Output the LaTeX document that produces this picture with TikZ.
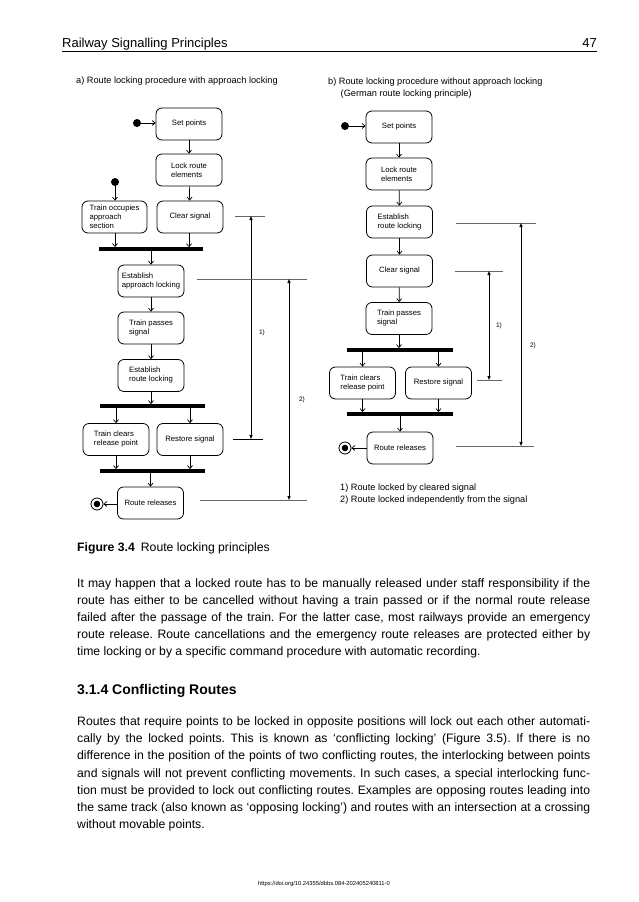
\documentclass[tikz,border=0pt]{standalone}
\usepackage{fontspec}
\setmainfont{Liberation Sans}
\usetikzlibrary{arrows.meta}
\frenchspacing
\begin{document}
\begin{tikzpicture}[x=1pt,y=-1pt,
  box/.style={draw, rounded corners=6pt, line width=0.8pt, minimum width=66pt, minimum height=32pt, align=left, font=\fontsize{7.7}{9}\selectfont, inner sep=2pt},
  flow/.style={-{Straight Barb[length=3pt,width=5pt]}, line width=0.7pt},
  barnode/.style={fill, inner sep=0, minimum height=3.5pt},
  dim/.style={{Triangle[length=4pt,width=3pt]}-{Triangle[length=4pt,width=3pt]}, line width=0.8pt},
  ext/.style={line width=0.5pt, black!60},
  extb/.style={line width=0.9pt},
  startdot/.style={circle, fill, inner sep=0, minimum size=8pt},
  enddot/.style={circle, draw, line width=0.8pt, inner sep=0, minimum size=12pt, path picture={\fill (path picture bounding box.center) circle (3.3pt);}},
  body/.style={anchor=base west, inner sep=0, font=\fontsize{12.2}{18}\selectfont},
  title/.style={anchor=base west, inner sep=0, font=\fontsize{9.2}{11}\selectfont},
  dimlabel/.style={inner sep=0, font=\fontsize{6.5}{7}\selectfont}
]
\fill[white] (0,0) rectangle (638,902);
\useasboundingbox (0,0) rectangle (638,902);

% header
\node[anchor=base west, inner sep=0, font=\fontsize{13}{15}\selectfont] (hdl) at (62,47.5) {Railway Signalling Principles};
\node[anchor=base east, inner sep=0, font=\fontsize{13}{15}\selectfont] (hdr) at (597,47.5) {47};
\coordinate (rl) at (62,51.5);
\coordinate (rr) at (597,51.5);
\draw[line width=1pt] (rl) -- (rr);

% ===== diagram a =====
\node[title] (ta) at (76,83.5) {a) Route locking procedure with approach locking};
\node[box] (a1) at (189,124) {Set points};
\node[box] (a2) at (189,170) {Lock route\\elements};
\node[box] (a3) at (190,217) {Clear signal};
\node[box, minimum width=65pt] (a4) at (114.5,217) {Train occupies\\approach\\section};
\node[startdot] (as1) at (137,123) {};
\node[startdot] (as2) at (115,182) {};
\node[barnode, minimum width=104pt] (ab1) at (151,249) {};
\node[box] (a5) at (151,281) {Establish\\approach locking};
\node[box] (a6) at (151,328) {Train passes\\signal};
\node[box] (a7) at (151,375.5) {Establish\\route locking};
\node[barnode, minimum width=105pt] (ab2) at (152.5,406) {};
\node[box] (a8) at (116,439.5) {Train clears\\release point};
\node[box] (a9) at (190,439.5) {Restore signal};
\node[barnode, minimum width=105pt] (ab3) at (152.5,471) {};
\node[box] (a10) at (150.5,503) {Route releases};
\node[enddot] (ae) at (97,504) {};

\draw[flow] (as1) -- (a1.west |- as1);
\draw[flow] (a1) -- (a2);
\draw[flow] (a2) -- (a3);
\draw[flow] (as2) -- (as2 |- a4.north);
\draw[flow] (as2 |- a4.south) -- (as2 |- ab1.north);
\draw[flow] (189,233) -- (189,247.25);
\draw[flow] (a5.north |- ab1.south) -- (a5.north);
\draw[flow] (a5) -- (a6);
\draw[flow] (a6) -- (a7);
\draw[flow] (a7.south) -- (a7.south |- ab2.north);
\draw[flow] (a8.north |- ab2.south) -- (a8.north);
\draw[flow] (a9.north |- ab2.south) -- (a9.north);
\draw[flow] (a8.south) -- (a8.south |- ab3.north);
\draw[flow] (a9.south) -- (a9.south |- ab3.north);
\draw[flow] (a10.north |- ab3.south) -- (a10.north);
\draw[flow] (a10.west |- ae) -- (ae);

% dimensions a
\coordinate (da1t) at (251,216);
\coordinate (da1b) at (251,439);
\draw[ext] (235,216) -- (265,216);
\draw[extb] (233,439) -- (263,439);
\draw[dim] (da1t) -- (da1b);
\node[dimlabel] (la1) at (262,333) {1)};
\coordinate (da2t) at (289,279);
\coordinate (da2b) at (289,500);
\draw[ext] (197,279) -- (307,279);
\draw[ext] (200,500) -- (307,500);
\draw[dim] (da2t) -- (da2b);
\node[dimlabel] (la2) at (302,400) {2)};

% ===== diagram b =====
\node[title] (tb1) at (328,84) {b) Route locking procedure without approach locking};
\node[title] (tb2) at (340.5,96) {(German route locking principle)};
\node[box] (b1) at (399,127) {Set points};
\node[box] (b2) at (399,174) {Lock route\\elements};
\node[box] (b3) at (399.5,222) {Establish\\route locking};
\node[box] (b4) at (399.5,271) {Clear signal};
\node[box] (b5) at (399,318.5) {Train passes\\signal};
\node[barnode, minimum width=106pt] (bb1) at (400,350) {};
\node[box] (b6) at (362.5,383) {Train clears\\release point};
\node[box] (b7) at (438.5,383) {Restore signal};
\node[barnode, minimum width=106pt] (bb2) at (400,414) {};
\node[box] (b8) at (400,448) {Route releases};
\node[startdot] (bs) at (345,126) {};
\node[enddot] (be) at (345,448) {};

\draw[flow] (bs) -- (b1.west |- bs);
\draw[flow] (b1) -- (b2);
\draw[flow] (b2) -- (b3);
\draw[flow] (b3) -- (b4);
\draw[flow] (b4) -- (b5);
\draw[flow] (b5.south) -- (b5.south |- bb1.north);
\draw[flow] (b6.north |- bb1.south) -- (b6.north);
\draw[flow] (b7.north |- bb1.south) -- (b7.north);
\draw[flow] (b6.south) -- (b6.south |- bb2.north);
\draw[flow] (b7.south) -- (b7.south |- bb2.north);
\draw[flow] (b8.north |- bb2.south) -- (b8.north);
\draw[flow] (b8.west) -- (be);

% dimensions b
\coordinate (db1t) at (489,271);
\coordinate (db1b) at (489,380);
\draw[ext] (455,271) -- (503,271);
\draw[ext] (477,380) -- (502,380);
\draw[dim] (db1t) -- (db1b);
\node[dimlabel] (lb1) at (499,326) {1)};
\coordinate (db2t) at (521,223);
\coordinate (db2b) at (521,446);
\draw[ext] (456,223) -- (536,223);
\draw[ext] (456,446) -- (534,446);
\draw[dim] (db2t) -- (db2b);
\node[dimlabel] (lb2) at (533,346) {2)};

\node[title] (n1) at (340,490.5) {1) Route locked by cleared signal};
\node[title] (n2) at (340,502) {2) Route locked independently from the signal};

% ===== caption and text =====
\node[body] (cap) at (77,551) {\textbf{Figure 3.4}\hspace{0.5em}Route locking principles};

\node[body] (p1a) at (77,587) {\makebox[513pt][s]{It may happen that a locked route has to be manually released under staff responsibility if the}};
\node[body] (p1b) at (77,604.2) {\makebox[513pt][s]{route has either to be cancelled without having a train passed or if the normal route release}};
\node[body] (p1c) at (77,621.4) {\makebox[513pt][s]{failed after the passage of the train. For the latter case, most railways provide an emergency}};
\node[body] (p1d) at (77,638.6) {\makebox[513pt][s]{route release. Route cancellations and the emergency route releases are protected either by}};
\node[body] (p1e) at (77,655.8) {time locking or by a specific command procedure with automatic recording.};

\node[anchor=base west, inner sep=0, font=\fontsize{14}{16}\selectfont\bfseries] (h314) at (77,694.5) {3.1.4 Conflicting Routes};

\node[body] (p2a) at (77,725.5) {\makebox[513pt][s]{Routes that require points to be locked in opposite positions will lock out each other automati-}};
\node[body] (p2b) at (77,742.7) {\makebox[513pt][s]{cally by the locked points. This is known as ‘conflicting locking’ (Figure 3.5). If there is no}};
\node[body] (p2c) at (77,759.9) {\makebox[513pt][s]{difference in the position of the points of two conflicting routes, the interlocking between points}};
\node[body] (p2d) at (77,777.1) {\makebox[513pt][s]{and signals will not prevent conflicting movements. In such cases, a special interlocking func-}};
\node[body] (p2e) at (77,794.3) {\makebox[513pt][s]{tion must be provided to lock out conflicting routes. Examples are opposing routes leading into}};
\node[body] (p2f) at (77,811.5) {\makebox[513pt][s]{the same track (also known as ‘opposing locking’) and routes with an intersection at a crossing}};
\node[body] (p2g) at (77,828.7) {without movable points.};

\node[anchor=base, inner sep=0, font=\fontsize{5.8}{7}\selectfont] (foot) at (324,885) {https://doi.org/10.24355/dbbs.084-202405240811-0};
\end{tikzpicture}
\end{document}
